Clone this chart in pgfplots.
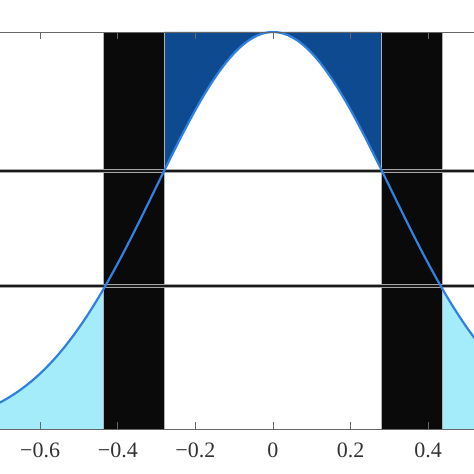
\documentclass[border=0pt]{standalone}
\usepackage{pgfplots}
\pgfplotsset{compat=1.18}
\usepackage{pgfplotstable}
\usepgfplotslibrary{fillbetween}
\usepackage{fontspec}
\setmainfont{Liberation Serif}

\definecolor{curveblue}{HTML}{2F80E0}
\definecolor{darkfill}{HTML}{0D4A90}
\definecolor{lightfill}{HTML}{A5ECFA}
\definecolor{barblack}{HTML}{0A0A0A}

% membership curve
\pgfplotstableread{
x y
-0.80 0.0303
-0.78 0.0360
-0.76 0.0426
-0.74 0.0502
-0.72 0.0589
-0.70 0.0687
-0.68 0.0799
-0.66 0.0925
-0.64 0.1066
-0.62 0.1224
-0.60 0.1398
-0.58 0.1591
-0.56 0.1802
-0.54 0.2032
-0.52 0.2282
-0.50 0.2551
-0.48 0.2839
-0.46 0.3146
-0.44 0.3472
-0.42 0.3814
-0.40 0.4172
-0.38 0.4542
-0.36 0.4925
-0.34 0.5317
-0.32 0.5714
-0.30 0.6115
-0.28 0.6515
-0.26 0.6912
-0.24 0.7300
-0.22 0.7676
-0.20 0.8037
-0.18 0.8378
-0.16 0.8695
-0.14 0.8984
-0.12 0.9243
-0.10 0.9468
-0.08 0.9656
-0.06 0.9805
-0.04 0.9913
-0.02 0.9978
0.00 1.0000
0.02 0.9978
0.04 0.9913
0.06 0.9805
0.08 0.9656
0.10 0.9468
0.12 0.9243
0.14 0.8984
0.16 0.8695
0.18 0.8378
0.20 0.8037
0.22 0.7676
0.24 0.7300
0.26 0.6912
0.28 0.6515
0.30 0.6115
0.32 0.5714
0.34 0.5317
0.36 0.4925
0.38 0.4542
0.40 0.4172
0.42 0.3814
0.44 0.3472
0.46 0.3146
0.48 0.2839
0.50 0.2551
0.52 0.2282
0.54 0.2032
0.56 0.1802
0.58 0.1591
0.60 0.1398
0.62 0.1224
0.64 0.1066
0.66 0.0925
0.68 0.0799
0.70 0.0687
0.72 0.0589
0.74 0.0502
0.76 0.0426
0.78 0.0360
0.80 0.0303
}\curvedata

\begin{document}
\begin{tikzpicture}
\begin{axis}[
    anchor=origin, at={(0pt,0pt)},
    x=388pt, y=397pt,
    xmin=-0.8, xmax=0.8,
    ymin=0, ymax=1,
    axis on top,
    clip=true,
    axis line style={gray!80!black, line width=0.8pt},
    xtick={-0.6,-0.4,...,0.4},
    xticklabels={−0.6,−0.4,−0.2,0,0.2,0.4},
    ytick=\empty,
    major tick length=7pt,
    tick style={gray!80!black, line width=0.6pt},
    tick label style={font=\fontsize{22}{22}\selectfont, text=black!80},
    xticklabel style={yshift=-10pt},
    ]
    \addplot[draw=none, name path=top] coordinates {(-0.8,1) (0.8,1)};
    \addplot[draw=none, name path=base] coordinates {(-0.8,0) (0.8,0)};
    \addplot[draw=none, name path=curve] table[x=x, y=y] {\curvedata};

    \addplot[darkfill] fill between[of=curve and top, soft clip={domain=-0.28:0.28}];
    \addplot[lightfill] fill between[of=curve and base, soft clip={domain=-0.8:-0.437}];
    \addplot[lightfill] fill between[of=curve and base, soft clip={domain=0.437:0.8}];

    % black bands
    \addplot[fill=barblack, draw=gray!60, line width=0.6pt] coordinates {(-0.437,0) (-0.28,0) (-0.28,1) (-0.437,1)} -- cycle;
    \addplot[fill=barblack, draw=gray!60, line width=0.6pt] coordinates {(0.28,0) (0.437,0) (0.437,1) (0.28,1)} -- cycle;

    % thresholds
    \addplot[gray!70, line width=4.5pt] coordinates {(-0.8,0.65) (0.8,0.65)};
    \addplot[black!90, line width=2.5pt] coordinates {(-0.8,0.65) (0.8,0.65)};
    \addplot[gray!70, line width=4.5pt] coordinates {(-0.8,0.36) (0.8,0.36)};
    \addplot[black!90, line width=2.5pt] coordinates {(-0.8,0.36) (0.8,0.36)};

    \addplot[curveblue, line width=2.2pt, smooth] table[x=x, y=y] {\curvedata};
\end{axis}
\pgfresetboundingbox
\useasboundingbox (-273pt,-45pt) rectangle (201pt,429pt);
\end{tikzpicture}
\end{document}
